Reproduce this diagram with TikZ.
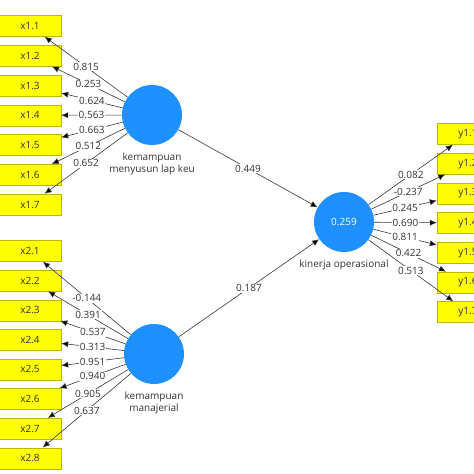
\documentclass[tikz,border=0pt]{standalone}
\usepackage{fontspec}
\setmainfont{Open Sans}
\usepackage{xcolor}
\definecolor{plsblue}{RGB}{30,144,255}
\definecolor{plsyellow}{RGB}{255,255,0}
\definecolor{plsedge}{RGB}{185,185,0}
\definecolor{plsline}{RGB}{55,55,55}
\usetikzlibrary{arrows.meta,positioning}
\tikzset{
  indicator/.style={rectangle, draw=plsedge, fill=plsyellow, minimum width=62pt, minimum height=21pt, inner sep=0pt, text=black!80},
  latent/.style={circle, fill=plsblue, minimum size=60pt, inner sep=0pt, text=white},
  caption/.style={align=center, text=black!80, font=\fontsize{10}{12}\selectfont},
  coef/.style={fill=white, inner sep=0.8pt, text=black!80},
  line/.style={draw=plsline, line width=0.6pt, -{Latex[length=7pt,width=6pt]}},
}

\begin{document}
\begin{tikzpicture}[x=1pt, y=-1pt]
   \useasboundingbox (0,0) rectangle (474,474);
   \clip (0,0) rectangle (474,474);
   % latent variables
   \node[latent] (KML) at (152,115) {};
   \node[latent] (KM) at (154,354) {};
   \node[latent] (KO) at (344,222) {0.259};
   \node[caption, below=4pt of KML] (cKML) {kemampuan\\menyusun lap keu};
   \node[caption, below=4pt of KM] (cKM) {kemampuan\\manajerial};
   \node[caption, below=4pt of KO] (cKO) {kinerja operasional};
   % indicators
   \node[indicator] (x11) at (30,26) {x1.1};
   \node[indicator] (x12) at (30,55.75) {x1.2};
   \node[indicator] (x13) at (30,85.5) {x1.3};
   \node[indicator] (x14) at (30,115.25) {x1.4};
   \node[indicator] (x15) at (30,145) {x1.5};
   \node[indicator] (x16) at (30,174.75) {x1.6};
   \node[indicator] (x17) at (30,204.5) {x1.7};
   \node[indicator] (x21) at (30,251) {x2.1};
   \node[indicator] (x22) at (30,280.6) {x2.2};
   \node[indicator] (x23) at (30,310.2) {x2.3};
   \node[indicator] (x24) at (30,339.8) {x2.4};
   \node[indicator] (x25) at (30,369.4) {x2.5};
   \node[indicator] (x26) at (30,399) {x2.6};
   \node[indicator] (x27) at (30,428.6) {x2.7};
   \node[indicator] (x28) at (30,458.2) {x2.8};
   \node[indicator] (y11) at (468,134) {y1.1};
   \node[indicator] (y12) at (468,163.67) {y1.2};
   \node[indicator] (y13) at (468,193.33) {y1.3};
   \node[indicator] (y14) at (468,223) {y1.4};
   \node[indicator] (y15) at (468,252.67) {y1.5};
   \node[indicator] (y16) at (468,282.33) {y1.6};
   \node[indicator] (y17) at (468,312) {y1.7};

  \path[line]
    (KML) edge node[coef] {0.815} (x11)
          edge node[coef] {0.253} (x12)
          edge node[coef] {0.624} (x13)
          edge node[coef] {0.563} (x14)
          edge node[coef] {0.663} (x15)
          edge node[coef] {0.512} (x16)
          edge node[coef] {0.652} (x17)
    (KM) edge node[coef] {-0.144} (x21)
         edge node[coef] {0.391} (x22)
         edge node[coef] {0.537} (x23)
         edge node[coef] {0.313} (x24)
         edge node[coef] {0.951} (x25)
         edge node[coef] {0.940} (x26)
         edge node[coef] {0.905} (x27)
         edge node[coef] {0.637} (x28)
    (KO) edge node[coef] {0.082} (y11)
         edge node[coef] {-0.237} (y12)
         edge node[coef] {0.245} (y13)
         edge node[coef] {0.690} (y14)
         edge node[coef] {0.811} (y15)
         edge node[coef] {0.422} (y16)
         edge node[coef] {0.513} (y17)
    (KML) edge node[coef] {0.449} (KO)
    (KM) edge node[coef] {0.187} (KO);
\end{tikzpicture}
\end{document}
